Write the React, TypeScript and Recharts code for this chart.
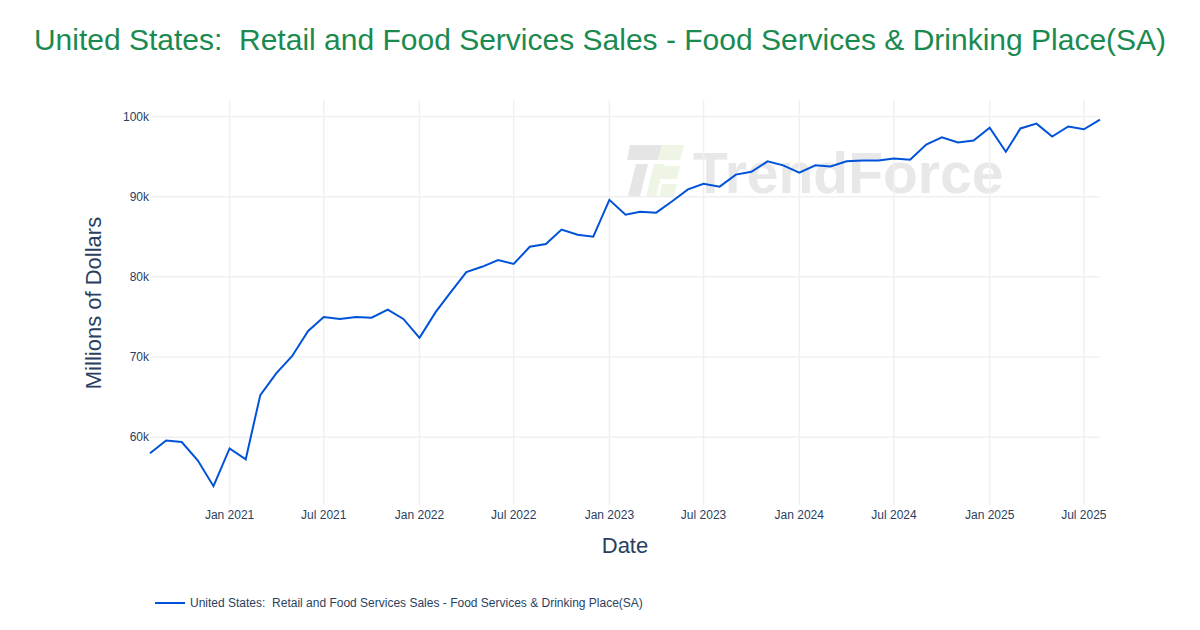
import React from "react";
import { CartesianGrid, Line, LineChart, XAxis, YAxis } from "recharts";

// Monthly series, Aug 2020 through Aug 2025 (millions of dollars, SA)
const START_YEAR = 2020;
const START_MONTH = 7; // 0-based: August

const sales = [
  58000, 59600, 59400, 57100, 53900,
  58600, 57250, 65250, 68000, 70100, 73250, 75000, 74750, 75000, 74900, 75900, 74750,
  72400, 75600, 78000, 80600, 81250, 82100, 81600, 83750, 84100, 85900, 85250, 85000,
  89600, 87750, 88100, 88000, 89400, 90900, 91600, 91250, 92750, 93100, 94400, 93900,
  93000, 93900, 93750, 94400, 94500, 94500, 94750, 94600, 96500, 97400, 96750, 97000,
  98600, 95600, 98500, 99100, 97500, 98750, 98400, 99600,
];

const xTickLabels = [
  "Jan 2021", "Jul 2021", "Jan 2022", "Jul 2022", "Jan 2023",
  "Jul 2023", "Jan 2024", "Jul 2024", "Jan 2025", "Jul 2025",
];

const yTicks = [60000, 70000, 80000, 90000, 100000];
const yDomain: [number, number] = [51550, 102050];

const SERIES_NAME =
  "United States:  Retail and Food Services Sales - Food Services & Drinking Place(SA)";

const MONTHS = ["Jan", "Feb", "Mar", "Apr", "May", "Jun", "Jul", "Aug", "Sep", "Oct", "Nov", "Dec"];

const data = sales.map((value, i) => ({
  date: Date.UTC(START_YEAR, START_MONTH + i, 1),
  value,
}));

const xTicks = xTickLabels.map((label) => {
  const [mon, year] = label.split(" ");
  return Date.UTC(Number(year), MONTHS.indexOf(mon), 1);
});

const xMin = data[0].date;
const xMax = data[data.length - 1].date;

const formatDate = (t: number) => {
  const d = new Date(t);
  return `${MONTHS[d.getUTCMonth()]} ${d.getUTCFullYear()}`;
};

// grid only at tick values, so no frame is drawn around the plot
const gridX = ({ offset }: any) =>
  xTicks.map((t) => offset.left + (offset.width * (t - xMin)) / (xMax - xMin));
const gridY = ({ offset }: any) =>
  yTicks.map(
    (t) => offset.top + (offset.height * (yDomain[1] - t)) / (yDomain[1] - yDomain[0]),
  );

const FONT = '"Liberation Sans", Arial, sans-serif';
const INK = "#2a3f5f";
const LINE_BLUE = "#0052d9";
const TITLE_GREEN = "#1b8a50";

function Watermark() {
  return (
    <svg
      width={1200}
      height={630}
      style={{ position: "absolute", left: 0, top: 0 }}
    >
      <g opacity={0.6}>
        <polygon points="630,145 662,145 658,160 627,160" fill="#d4d4d4" />
        <polygon points="636,164 648,164 640,196 628,196" fill="#d4d4d4" />
        <polygon points="662,145 684,145 680,160 658,160" fill="#e4efd4" />
        <polygon points="656,166 680,166 677,179 653,179" fill="#e4efd4" />
        <polygon points="654,164 664,164 656,197 646,197" fill="#e4efd4" />
        <polygon points="662,184 677,184 674,197 659,197" fill="#e4efd4" />
      </g>
      <text
        x={693}
        y={193}
        fontFamily={FONT}
        fontWeight="bold"
        fontSize={57}
        fill="#e4e4e4"
        opacity={0.85}
      >
        TrendForce
      </text>
    </svg>
  );
}

export default function App() {
  return (
    <div
      style={{
        position: "absolute",
        left: 0,
        top: 0,
        width: 1200,
        height: 630,
        background: "#ffffff",
        fontFamily: FONT,
        overflow: "hidden",
      }}
    >
      <Watermark />
      <div
        style={{
          position: "absolute",
          left: 0,
          top: 20,
          width: 1200,
          textAlign: "center",
          fontSize: 30,
          color: TITLE_GREEN,
          whiteSpace: "pre",
          lineHeight: "40px",
        }}
      >
        {SERIES_NAME}
      </div>

      <div style={{ position: "absolute", left: 0, top: 0 }}>
        <LineChart
          width={1200}
          height={630}
          data={data}
          margin={{ top: 100, right: 100, bottom: 95, left: 90 }}
        >
          <CartesianGrid
            stroke="#f0f0f0"
            strokeWidth={1.5}
            verticalCoordinatesGenerator={gridX}
            horizontalCoordinatesGenerator={gridY}
          />
          <XAxis
            dataKey="date"
            type="number"
            scale="time"
            domain={["dataMin", "dataMax"]}
            ticks={xTicks}
            tickFormatter={formatDate}
            axisLine={false}
            tickLine={false}
            tickSize={0}
            tickMargin={5}
            height={30}
            tick={{ fill: INK, fontSize: 12, fontFamily: FONT }}
            interval={0}
          />
          <YAxis
            type="number"
            domain={yDomain}
            ticks={yTicks}
            tickFormatter={(v: number) => `${v / 1000}k`}
            axisLine={false}
            tickLine={false}
            tickSize={0}
            tickMargin={1}
            width={60}
            allowDataOverflow
            tick={{ fill: INK, fontSize: 12, fontFamily: FONT }}
          />
          <Line
            type="linear"
            dataKey="value"
            name={SERIES_NAME}
            stroke={LINE_BLUE}
            strokeWidth={2}
            dot={false}
            activeDot={false}
            isAnimationActive={false}
          />
        </LineChart>
      </div>

      {/* axis titles */}
      <div
        style={{
          position: "absolute",
          left: 625 - 100,
          top: 532,
          width: 200,
          textAlign: "center",
          fontSize: 22,
          color: INK,
          lineHeight: "28px",
        }}
      >
        Date
      </div>
      <div
        style={{
          position: "absolute",
          left: 94 - 150,
          top: 303 - 14,
          width: 300,
          textAlign: "center",
          fontSize: 22,
          color: INK,
          lineHeight: "28px",
          transform: "rotate(-90deg)",
        }}
      >
        Millions of Dollars
      </div>

      {/* legend */}
      <div
        style={{
          position: "absolute",
          left: 155,
          top: 595,
          display: "flex",
          alignItems: "center",
          fontSize: 12,
          color: INK,
          whiteSpace: "pre",
        }}
      >
        <svg width={35} height={16}>
          <line x1={0} y1={8} x2={30} y2={8} stroke={LINE_BLUE} strokeWidth={2} />
        </svg>
        <span>{SERIES_NAME}</span>
      </div>
    </div>
  );
}
